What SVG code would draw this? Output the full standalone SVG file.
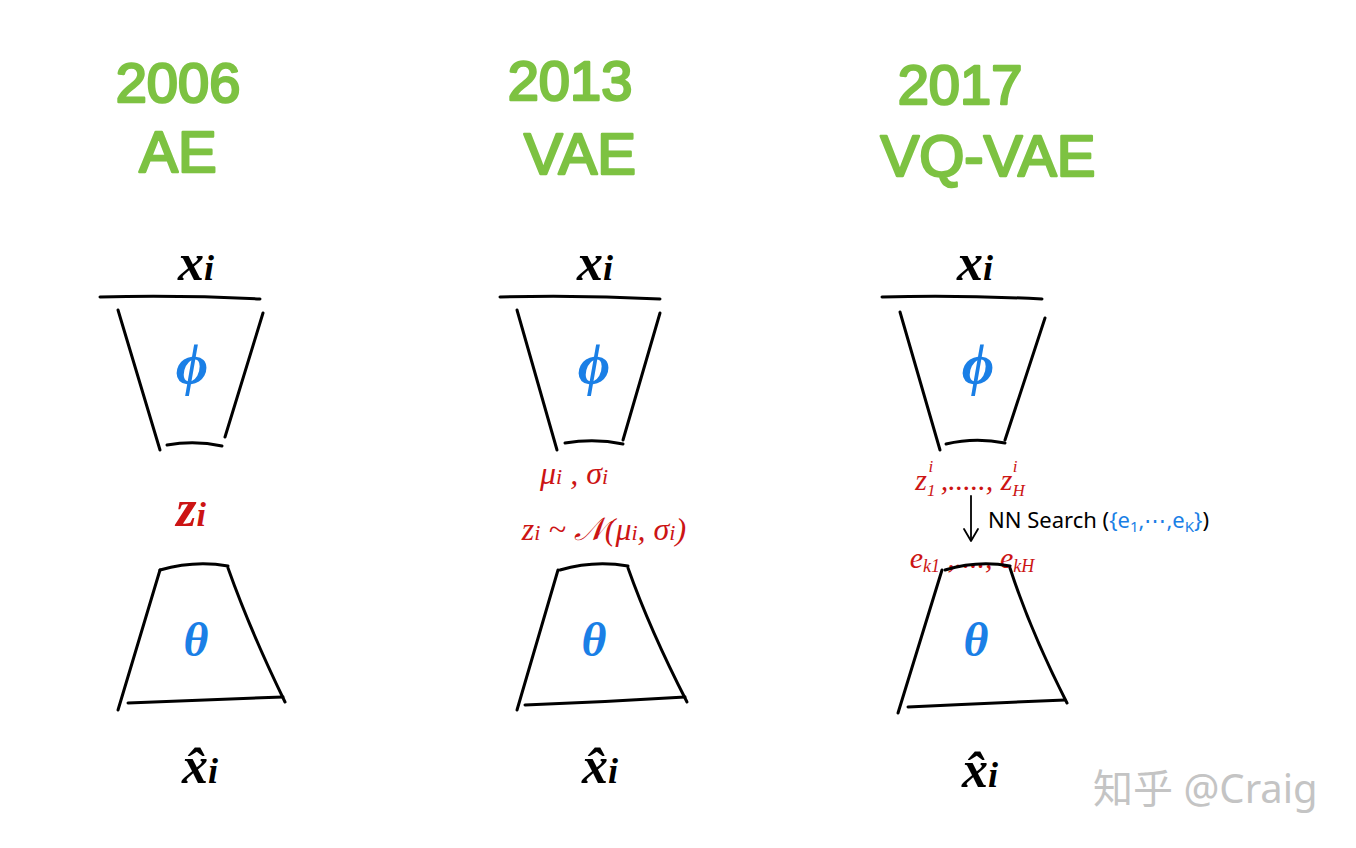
<svg xmlns="http://www.w3.org/2000/svg" width="1356" height="848" viewBox="0 0 1356 848">
<defs>
<style>
.bg{fill:#ffffff}
.ln{fill:none;stroke:#000;stroke-width:3;stroke-linecap:round;stroke-linejoin:round}
.title{font-family:"Liberation Sans",sans-serif;fill:#7dc242;stroke:#7dc242;stroke-width:2.5;stroke-linejoin:round;text-anchor:middle}
.var{font-family:"Liberation Serif",serif;font-style:italic;font-weight:bold;fill:#000;text-anchor:middle}
.par{font-family:"Liberation Serif",serif;font-style:italic;font-weight:bold;fill:#1a7fe6;text-anchor:middle}
.red{font-family:"Liberation Serif",serif;font-style:italic;fill:#cc1414;text-anchor:middle}
.note{font-family:"Noto Sans","Liberation Sans",sans-serif;fill:#000;font-size:22px}
.blue{fill:#1a7fe6}
.wm{font-family:"Noto Sans","Noto Sans CJK SC",sans-serif;fill:#c4c4c4;font-size:40px}
.arw{fill:none;stroke:#000;stroke-width:1.8;stroke-linecap:round;stroke-linejoin:round}
</style>
</defs>
<rect class="bg" x="0" y="0" width="1356" height="848"/>

<g id="titles">
<text class="title" x="178" y="102" font-size="56">2006</text>
<text class="title" x="178" y="172" font-size="58">AE</text>
<text class="title" x="570" y="100" font-size="56">2013</text>
<text class="title" x="580" y="174" font-size="58">VAE</text>
<text class="title" x="960" y="104" font-size="56">2017</text>
<text class="title" x="988" y="176" font-size="58">VQ-VAE</text>
</g>

<g id="ae-input"><text class="var" x="196" y="280" font-size="52">x<tspan font-size="36">i</tspan></text></g>
<g id="ae-encoder">
<path class="ln" d="M100,297 Q180,295 260,299"/>
<path class="ln" d="M118,310 L160,450"/>
<path class="ln" d="M263,313 L225,437"/>
<path class="ln" d="M167,445 Q195,440 222,446"/>
<text class="par" x="192" y="384" font-size="56">ϕ</text>
</g>
<g id="ae-latent"><text class="red" x="191" y="526" font-size="52" font-weight="bold">z<tspan font-size="34">i</tspan></text></g>
<g id="ae-decoder">
<path class="ln" d="M160,570 Q195,560 228,566"/>
<path class="ln" d="M160,570 L118,710"/>
<path class="ln" d="M228,568 Q250,630 285,702"/>
<path class="ln" d="M128,703 Q210,700 283,697"/>
<text class="par" x="196" y="656" font-size="48">θ</text>
</g>
<g id="ae-output"><text class="var" x="200" y="783" font-size="52">x̂<tspan font-size="36">i</tspan></text></g>

<g id="vae-input"><text class="var" x="595" y="280" font-size="52">x<tspan font-size="36">i</tspan></text></g>
<g id="vae-encoder">
<path class="ln" d="M500,297 Q580,295 660,299"/>
<path class="ln" d="M517,310 L557,450"/>
<path class="ln" d="M660,313 L623,440"/>
<path class="ln" d="M565,443 Q595,438 623,444"/>
<text class="par" x="594" y="384" font-size="56">ϕ</text>
</g>
<g id="vae-latent">
<text class="red" x="574" y="484" font-size="32">μ<tspan font-size="22">i</tspan> , σ<tspan font-size="22">i</tspan></text>
<text class="red" x="604" y="540" font-size="32">z<tspan font-size="22">i</tspan> ~ 𝒩(μ<tspan font-size="22">i</tspan>, σ<tspan font-size="22">i</tspan>)</text>
</g>
<g id="vae-decoder">
<path class="ln" d="M560,570 Q594,560 628,566"/>
<path class="ln" d="M558,570 L517,710"/>
<path class="ln" d="M628,568 Q650,630 687,702"/>
<path class="ln" d="M525,705 Q605,702 685,697"/>
<text class="par" x="594" y="656" font-size="48">θ</text>
</g>
<g id="vae-output"><text class="var" x="600" y="783" font-size="52">x̂<tspan font-size="36">i</tspan></text></g>

<g id="vq-input"><text class="var" x="975" y="280" font-size="52">x<tspan font-size="36">i</tspan></text></g>
<g id="vq-encoder">
<path class="ln" d="M882,297 Q962,295 1042,299"/>
<path class="ln" d="M900,312 L940,450"/>
<path class="ln" d="M1045,318 L1005,440"/>
<path class="ln" d="M946,444 Q975,437 1005,443"/>
<text class="par" x="978" y="384" font-size="56">ϕ</text>
</g>
<g id="vq-latent">
<text class="red" x="970" y="490" font-size="30">z<tspan font-size="17" dy="6">1</tspan><tspan font-size="17" dx="-7" dy="-24">i</tspan><tspan dy="18"> ,....., z</tspan><tspan font-size="17" dy="6">H</tspan><tspan font-size="17" dx="-12" dy="-24">i</tspan></text>
</g>
<g id="vq-codes">
<text class="red" x="972" y="568" font-size="30">e<tspan font-size="18" dy="4">k1</tspan><tspan dy="-4"> ,...., e</tspan><tspan font-size="18" dy="4">kH</tspan></text>
</g>
<g id="vq-note">
<text class="note" x="988" y="528">NN Search (<tspan class="blue">{e<tspan font-size="15" dy="4">1</tspan><tspan dy="-4">,⋯,e</tspan><tspan font-size="15" dy="4">K</tspan><tspan dy="-4">}</tspan></tspan>)</text>
</g>
<g id="vq-decoder">
<path class="ln" d="M945,570 Q978,560 1010,566"/>
<path class="ln" d="M942,570 L898,713"/>
<path class="ln" d="M1010,568 Q1030,630 1067,703"/>
<path class="ln" d="M908,707 Q988,703 1065,700"/>
<text class="par" x="976" y="656" font-size="48">θ</text>
</g>
<g id="vq-output"><text class="var" x="980" y="787" font-size="52">x̂<tspan font-size="36">i</tspan></text></g>

<g id="connectors">
<path class="arw" d="M971,496 L971,540"/>
<path class="arw" d="M964,529 L971,541 L978,529"/>
</g>

<g id="watermark">
<text class="wm" x="1093" y="803">知乎 @Craig</text>
</g>
</svg>
